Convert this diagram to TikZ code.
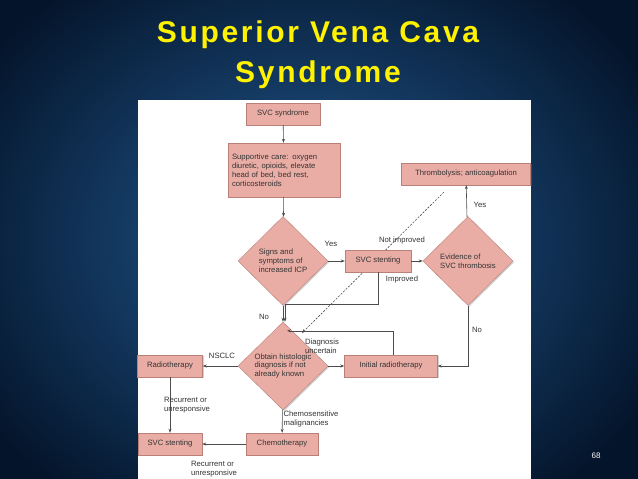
\documentclass[tikz,border=0pt]{standalone}
\usepackage{fontspec}
\setmainfont{Liberation Sans}
\usetikzlibrary{shapes.geometric,arrows.meta,shadows}
\definecolor{boxfill}{HTML}{E9ADA5}
\definecolor{boxline}{HTML}{B98079}
\definecolor{titley}{HTML}{FFF200}
\definecolor{bgin}{HTML}{235C95}
\definecolor{bgout}{HTML}{04152B}
\begin{document}
\begin{tikzpicture}[x=1pt,y=-1pt,
  every node/.style={font=\fontsize{7.7}{8.9}\selectfont, text=black!80},
  rbox/.style={draw=boxline, fill=boxfill, line width=0.4pt, inner sep=0pt, align=left,
     drop shadow={shadow xshift=1.2pt, shadow yshift=-1.2pt, opacity=0.35}},
  dia/.style={diamond, draw=boxline, fill=boxfill, line width=0.4pt, inner sep=0pt, align=left,
     minimum width=90pt, minimum height=89pt, drop shadow={shadow xshift=1.2pt, shadow yshift=-1.2pt, opacity=0.35}},
  arr/.style={draw=black!70, line width=0.6pt, -{Stealth[length=4pt,width=3pt]}},
  lab/.style={align=left, inner sep=0pt}]
\useasboundingbox (0,0) rectangle (638,479);
\shade[inner color=bgin, outer color=bgout] (-80,-80) rectangle (700,560);
\fill[white] (138,100) rectangle (531,479);
\node[font=\fontsize{30}{40}\bfseries\addfontfeatures{LetterSpace=9}, text=titley, align=center] (title) at (318,55) {Superior Vena Cava\\Syndrome};
\node[font=\fontsize{8}{9}\selectfont, text=white] (pg) at (596,456) {68};

\coordinate (d1) at (444,192);
\coordinate (d2) at (302,333);
\draw[arr, dashed, dash pattern=on 2pt off 1.5pt] (d1) -- (d2);

\node[rbox, minimum width=74pt, minimum height=22pt, align=center] (svc) at (283,114) {SVC syndrome};
\node[rbox, minimum width=112pt, minimum height=54pt, text width=104pt] (sup) at (284,170) {Supportive care: oxygen\\diuretic, opioids, elevate\\head of bed, bed rest,\\corticosteroids};
\node[dia] (signs) at (283,261) {Signs and\\symptoms of\\increased ICP};
\node[rbox, minimum width=66pt, minimum height=22pt, align=center] (sten) at (378,261) {SVC stenting};
\node[dia] (evid) at (468,261) {Evidence of\\SVC thrombosis};
\node[rbox, minimum width=129pt, minimum height=22pt, align=center] (thr) at (466,174) {Thrombolysis; anticoagulation};
\node[dia, minimum height=88pt] (obt) at (283,366) {Obtain histologic\\diagnosis if not\\already known};
\node[rbox, minimum width=93pt, minimum height=22pt, align=center] (irad) at (391,366) {Initial radiotherapy};
\node[rbox, minimum width=65pt, minimum height=22pt, align=center] (rad) at (170,366) {Radiotherapy};
\node[rbox, minimum width=64pt, minimum height=22pt, align=center] (sten2) at (170,444) {SVC stenting};
\node[rbox, minimum width=72pt, minimum height=22pt, align=center] (chemo) at (282,444) {Chemotherapy};

\draw[arr] (svc) -- (sup);
\draw[arr] (sup) -- (signs);
\draw[arr] (signs) -- (sten);
\draw[arr] (sten) -- (evid);
\draw[arr] (evid) -- (thr);
\draw[arr] (evid.south) -- (evid.south |- irad) -- (irad.east);
\draw[arr] (sten.south) -- ++(0,32) -| ([xshift=2pt]obt.north);
\draw[arr] ([xshift=2pt]irad.north) |- ([xshift=4pt,yshift=-9pt]obt.north);
\draw[arr] (signs) -- (obt);
\draw[arr] (obt) -- (irad);
\draw[arr] (obt) -- (rad);
\draw[arr] (obt) -- (chemo);
\draw[arr] (rad) -- (sten2);
\draw[arr] (chemo) -- (sten2);

\node[lab] (l1) at (331,244) {Yes};
\node[lab] (l2) at (402,241) {Not improved};
\node[lab] (l3) at (480,205) {Yes};
\node[lab] (l4) at (477,330) {No};
\node[lab] (l5) at (402,280) {Improved};
\node[lab] (l6) at (264,317) {No};
\node[lab] (l7) at (322,346) {Diagnosis\\uncertain};
\node[lab] (l8) at (222,356) {NSCLC};
\node[lab] (l9) at (311,419) {Chemosensitive\\malignancies};
\node[lab] (l10) at (187,405) {Recurrent or\\unresponsive};
\node[lab] (l11) at (214,469) {Recurrent or\\unresponsive};
\end{tikzpicture}
\end{document}
